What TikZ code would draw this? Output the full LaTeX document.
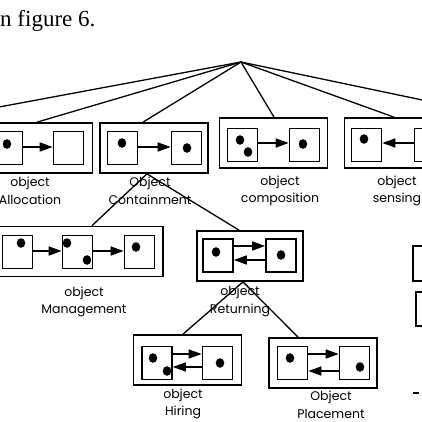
\documentclass[tikz,border=0pt]{standalone}
\usepackage{fontspec}
\setmainfont{Liberation Serif}
\newfontfamily\gothic{Poppins}
\usetikzlibrary{arrows.meta}

\tikzset{
  outbox/.style={draw,line width=1.7pt,minimum width=108pt,minimum height=50pt,inner sep=0pt},
  inbox/.style={draw,line width=1.6pt,minimum width=30pt,minimum height=33pt,inner sep=0pt},
  caption/.style={font=\gothic\fontsize{12.5}{17.5}\selectfont,align=center,inner sep=0pt},
  tie/.style={line width=1.3pt},
  push/.style={line width=1.5pt,-{Triangle[length=13pt,width=9pt]}},
  spot/.style={fill=black}
}

\begin{document}
\begin{tikzpicture}[x=1pt,y=-1pt]
  \useasboundingbox (0,0) rectangle (422,422);
  \clip (0,0) rectangle (422,422);
  \draw (0,27) node[anchor=base west,inner sep=0pt,font=\fontsize{23}{26}\selectfont] (fig) {n figure 6.};

  \coordinate (root) at (241,62);
  \coordinate (offleft) at (-60,118);
  \coordinate (offright) at (470,110);

  % first row
  \draw (38.5,148) node[outbox] (alloc) {};
      \draw (7.5,148) node[inbox] (alloc-a) {};
      \draw (68.5,148) node[inbox] (alloc-b) {};
  \draw (154,148) node[outbox] (cont) {};
      \draw (122.5,148) node[inbox] (cont-a) {};
      \draw (186.5,148) node[inbox] (cont-b) {};
  \draw (273.5,143) node[outbox] (comp) {};
      \draw (242.5,145) node[inbox] (comp-a) {};
      \draw (304.5,145) node[inbox] (comp-b) {};
  \draw (398.5,143) node[outbox] (sens) {};
      \draw (366.5,145) node[inbox] (sens-a) {};
      \draw (429.5,145) node[inbox] (sens-b) {};

  % second row
  \draw (79.5,251.5) node[outbox,minimum width=167pt] (man) {};
      \draw (17.5,252) node[inbox] (man-a) {};
      \draw (77.5,252) node[inbox] (man-b) {};
      \draw (139.5,252) node[inbox] (man-c) {};
  \draw (250,256) node[outbox,minimum width=106pt] (ret) {};
      \draw (218,255.5) node[inbox] (ret-a) {};
      \draw (281,255.5) node[inbox] (ret-b) {};

  % third row
  \draw (187.5,360) node[outbox] (hir) {};
      \draw (157,363) node[inbox] (hir-a) {};
      \draw (217.5,363) node[inbox] (hir-b) {};
  \draw (323,363) node[outbox] (plac) {};
      \draw (292.5,363) node[inbox] (plac-a) {};
      \draw (354.5,363) node[inbox] (plac-b) {};

  % captions
  \draw (30,191) node[caption] (alloc-t) {object\\Allocation};
  \draw (150,191) node[caption] (cont-t) {Object\\Containment};
  \draw (280,191) node[caption] (comp-t) {object\\composition};
  \draw (397,191) node[caption] (sens-t) {object\\sensing};
  \draw (84,302) node[caption] (man-t) {object\\Management};
  \draw (240,301.5) node[caption] (ret-t) {object\\Returning};
  \draw (183,404) node[caption] (hir-t) {object\\Hiring};
  \draw (331,405) node[caption] (plac-t) {Object\\Placement};

  % tree lines
  \path[tie] (root) edge (offleft)
                    edge ([xshift=-1.5pt]alloc.north)
                    edge ([xshift=-11pt]cont.north)
                    edge ([xshift=0.5pt]comp.north)
                    edge ([xshift=-4.5pt]sens.north)
                    edge (offright);
  \path[tie] ([xshift=-7pt]cont.south) edge ([xshift=12.5pt]man.north)
                                       edge ([xshift=-11pt]ret.north);
  \path[tie] ([xshift=-7pt]ret.south) edge ([xshift=-4.5pt]hir.north)
                                      edge ([xshift=-25pt]plac.north);

  % arrows inside
  \draw[push] ([yshift=1pt]alloc-a.east) -- ([yshift=1pt]alloc-b.west);
  \draw[push] ([yshift=1pt]cont-a.east) -- ([yshift=1pt]cont-b.west);
  \draw[push] ([yshift=2pt]comp-a.east) -- ([yshift=2pt]comp-b.west);
  \draw[push] ([yshift=2pt]sens-b.west) -- ([yshift=2pt]sens-a.east);
  \draw[push] ([yshift=1pt]man-a.east) -- ([yshift=1pt]man-b.west);
  \draw[push] ([yshift=1pt]man-b.east) -- ([yshift=1pt]man-c.west);
  \draw[push] ([yshift=9.5pt]ret-a.east) -- ([yshift=9.5pt]ret-b.west);
  \draw[push] ([yshift=-4.5pt]ret-b.west) -- ([yshift=-4.5pt]ret-a.east);
  \draw[push] ([yshift=9pt]hir-a.east) -- ([yshift=9pt]hir-b.west);
  \draw[push] ([yshift=-4pt]hir-b.west) -- ([yshift=-4pt]hir-a.east);
  \draw[push] ([yshift=9pt]plac-a.east) -- ([yshift=9pt]plac-b.west);
  \draw[push] ([yshift=-8pt]plac-b.west) -- ([yshift=-8pt]plac-a.east);

  % dots
  \fill[spot] (7,144) ellipse (4.3 and 4.8);
  \fill[spot] (122,143) ellipse (4.3 and 4.8);
  \fill[spot] (187,148) ellipse (4.3 and 4.8);
  \fill[spot] (240,140) ellipse (4.3 and 4.8);
  \fill[spot] (248,152) ellipse (4.3 and 4.8);
  \fill[spot] (303,144) ellipse (4.3 and 4.8);
  \fill[spot] (364,139) ellipse (4.3 and 4.8);
  \fill[spot] (21,243) ellipse (4.3 and 4.8);
  \fill[spot] (67,243) ellipse (4.3 and 4.8);
  \fill[spot] (87,260) ellipse (4.3 and 4.8);
  \fill[spot] (136,247) ellipse (4.3 and 4.8);
  \fill[spot] (216,252) ellipse (4.3 and 4.8);
  \fill[spot] (281,255) ellipse (4.3 and 4.8);
  \fill[spot] (153,358) ellipse (4.3 and 4.8);
  \fill[spot] (167,371) ellipse (4.3 and 4.8);
  \fill[spot] (220,363) ellipse (4.3 and 4.8);
  \fill[spot] (290,358) ellipse (4.3 and 4.8);
  \fill[spot] (360,367) ellipse (4.3 and 4.8);

  % pieces of the next column
  \draw[line width=1.6pt] (413,246) rectangle (440,281);
  \draw[line width=1.6pt] (416,292) rectangle (440,326);
  \draw[line width=1.3pt] (413,393) -- (419,393);
\end{tikzpicture}
\end{document}
